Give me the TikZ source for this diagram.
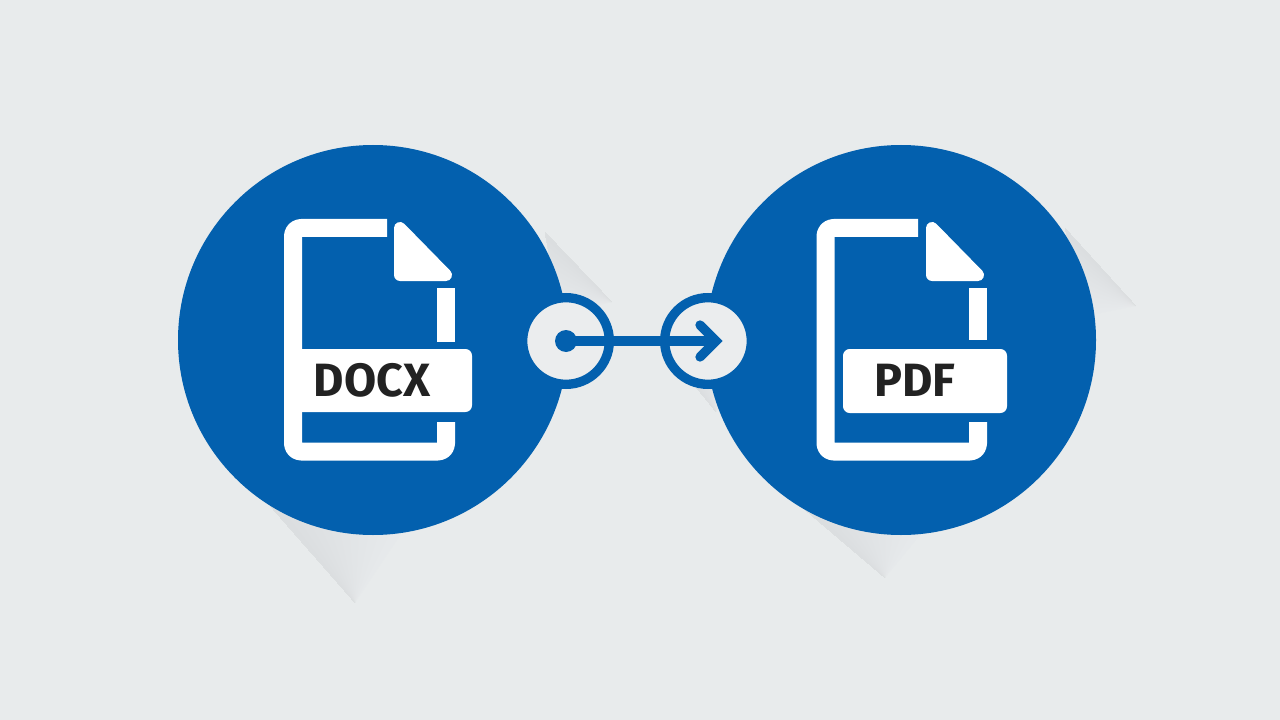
\documentclass[tikz,border=0pt]{standalone}
\usepackage{fontspec}
\setmainfont{Fira Sans}
\definecolor{bg}{HTML}{E8EBEC}
\definecolor{shade}{HTML}{B4B6B9}
\definecolor{brand}{HTML}{0360AE}
\definecolor{ink}{HTML}{222222}
\definecolor{disc}{HTML}{EBEDEE}
\tikzset{
  x=0.75pt,y=-0.75pt,
  bigdisc/.style={circle,fill=brand,minimum size=292.5pt,inner sep=0pt},
  port/.style={circle,fill=disc,draw=brand,line width=7pt,minimum size=65pt,inner sep=0pt},
  hub/.style={circle,fill=brand,minimum size=16.5pt,inner sep=0pt},
  tagtext/.style={font=\bfseries\fontsize{35}{35}\selectfont,text=ink,inner sep=0pt},
  sheet/.style={draw=white,line width=13.5pt,line join=round,line cap=butt},
  folded/.style={fill=white,draw=white,line width=9pt,line join=round},
  tagbox/.style={fill=white,rounded corners=5pt},
  flow/.style={draw=brand,line width=7pt},
  chevron/.style={draw=brand,line width=7pt,line cap=round,line join=miter},
  longshade/.style={fill=shade,draw=none,opacity=.02}
}
% fan of faint triangles: apex #1, fixed corner #2, far corner sweeps from #2 towards #3
\newcommand{\shadowfan}[3]{%
  \foreach \t in {0.08,0.16,...,1.0}{%
    \fill[longshade] #1 -- #2 -- ($#2!\t!#3$) -- cycle;
  }%
}
\usetikzlibrary{calc}
\begin{document}
\begin{tikzpicture}
\useasboundingbox (0,0) rectangle (1280,720);
\fill[bg] (0,0) rectangle (1280,720);
% long shadows
\shadowfan{(355,603)}{(270,506)}{(410,530)}
\shadowfan{(885,578)}{(805,510)}{(930,530)}
\shadowfan{(612,302)}{(545,232)}{(560,320)}
\shadowfan{(1136,306)}{(1065,228)}{(1085,320)}
\shadowfan{(716,412)}{(690,380)}{(735,395)}
\node[bigdisc] (left) at (373,340) {};
\node[bigdisc] (right) at (901,340) {};
% left document
\draw[sheet,rounded corners=6pt] (387,228) -- (293,228) -- (293,451.5) -- (446,451.5) -- (446,422);
\draw[white,line width=13.5pt] (446,288) -- (446,342);
\draw[folded] (400,228) -- (446,275) -- (400,275) -- cycle;
\fill[tagbox] (290,349) rectangle (472,412);
\node[tagtext] (docx) at (372,380) {DOCX};
% right document
\draw[sheet,rounded corners=6pt] (918,228) -- (825.5,228) -- (825.5,451.5) -- (978,451.5) -- (978,422);
\draw[white,line width=13.5pt] (978,288) -- (978,340);
\draw[folded] (932,228) -- (978,275) -- (932,275) -- cycle;
\fill[tagbox] (843,349) rectangle (1007,413);
\node[tagtext] (pdf) at (915,380) {PDF};
% connector
\node[port] (src) at (566,341) {};
\node[port] (dst) at (708,341) {};
\node[hub] (dot) at (566,341) {};
\coordinate (tip) at (716,341);
\draw[flow] (dot.center) -- (tip);
\draw[chevron] (700,325) -- (tip) -- (700,357);
\end{tikzpicture}
\end{document}
